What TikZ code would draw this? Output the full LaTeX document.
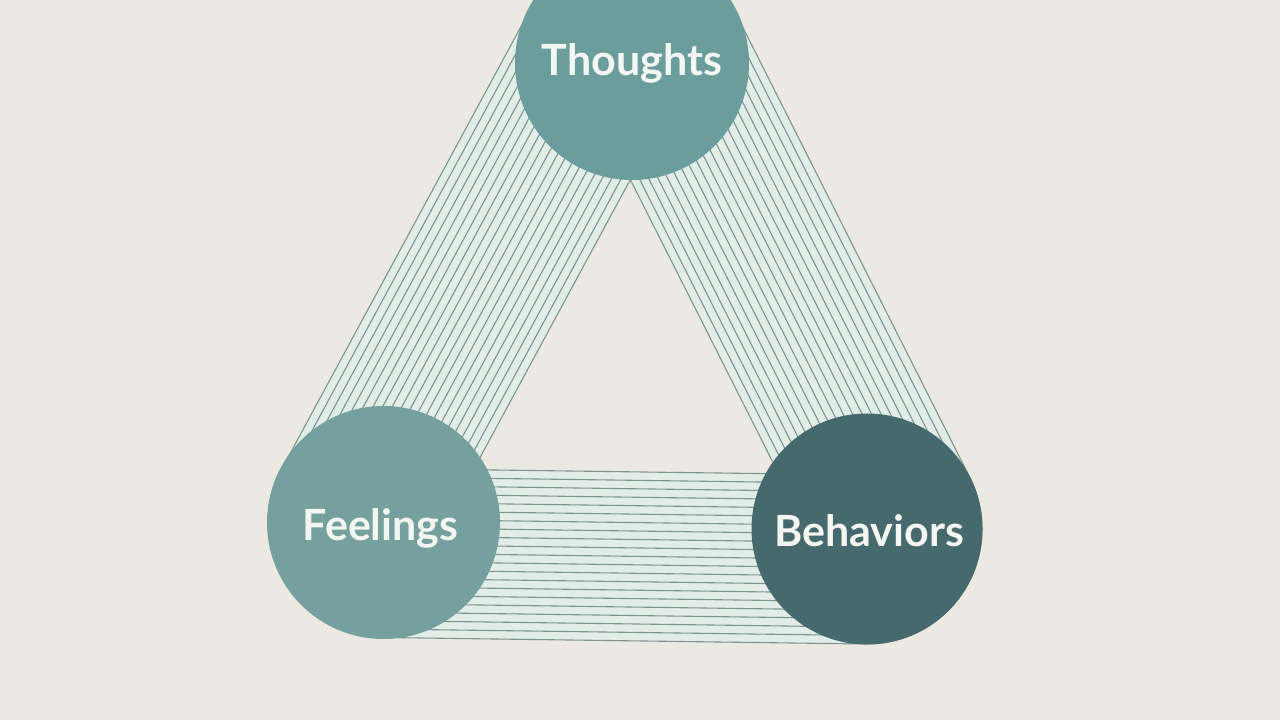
\documentclass[tikz,border=0pt]{standalone}
\usepackage{fontspec}
\newfontfamily\lblfont{Lato}
\usetikzlibrary{calc}
\definecolor{bg}{RGB}{236,233,226}
\definecolor{mint}{RGB}{226,237,232}
\definecolor{strk}{RGB}{125,148,140}
\definecolor{thc}{RGB}{106,157,155}
\definecolor{fec}{RGB}{118,160,157}
\definecolor{bec}{RGB}{70,105,110}
\definecolor{txt}{RGB}{244,246,242}
\begin{document}
\begin{tikzpicture}[x=1pt,y=1pt,
  bandline/.style={draw=strk, line width=1.1pt},
  bubble/.style={circle, inner sep=0pt, text=txt, font=\lblfont\bfseries\fontsize{43}{50}\selectfont}]
\fill[bg] (0,0) rectangle (1280,720);
\useasboundingbox (0,0) rectangle (1280,720);
\clip (0,0) rectangle (1280,720);
\coordinate (A) at (632,657);
\coordinate (B) at (383.5,197.5);
\coordinate (C) at (867,191);
\coordinate (I) at (627.46,340.7);
% band fill
\fill[mint, even odd rule]
  ([shift={(151.6:115pt)}]A) -- ([shift={(151.6:115pt)}]B)
  arc[start angle=151.6, end angle=269.2, radius=115pt]
  -- ([shift={(269.2:115pt)}]C)
  arc[start angle=269.2, end angle=386.8, radius=115pt]
  -- ([shift={(26.8:115pt)}]A)
  arc[start angle=26.8, end angle=151.6, radius=115pt] -- cycle
  ($(I)!0.631!(A)$) -- ($(I)!0.631!(B)$) -- ($(I)!0.631!(C)$) -- cycle;
% band lines
\foreach \k in {0,...,20}{
  \pgfmathsetmacro\d{-54+8.45*\k}
  \ifdim \d pt>0pt
    \draw[bandline]
      ([shift={(151.6:\d pt)}]A) -- ([shift={(151.6:\d pt)}]B)
      arc[start angle=151.6, end angle=269.2, radius=\d pt]
      -- ([shift={(269.2:\d pt)}]C)
      arc[start angle=269.2, end angle=386.8, radius=\d pt]
      -- ([shift={(26.8:\d pt)}]A)
      arc[start angle=26.8, end angle=151.6, radius=\d pt] -- cycle;
  \else
    \pgfmathsetmacro\s{(146.5+\d)/146.5}
    \draw[bandline] ($(I)!\s!(A)$) -- ($(I)!\s!(B)$) -- ($(I)!\s!(C)$) -- cycle;
  \fi
}
% circles
\node[bubble, fill=thc, minimum size=234pt] (th) at (A) {};
\node[bubble, fill=fec, minimum size=233pt] (fe) at (B) {};
\node[bubble, fill=bec, minimum size=231pt] (be) at (C) {};
% labels
\node[bubble] (thl) at ([yshift=0pt]th.center) {Thoughts};
\node[bubble] (fel) at ([xshift=-3pt,yshift=-6pt]fe.center) {Feelings};
\node[bubble] (bel) at ([xshift=2pt,yshift=-2pt]be.center) {Behaviors};
\end{tikzpicture}
\end{document}
